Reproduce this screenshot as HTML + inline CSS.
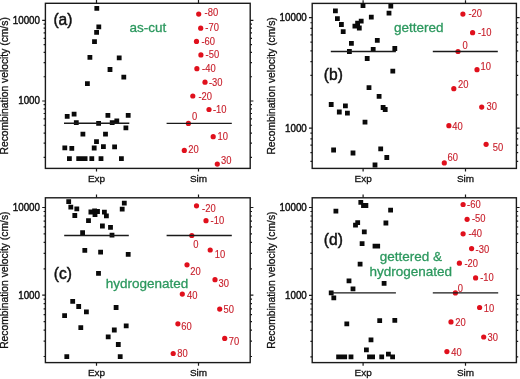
<!DOCTYPE html>
<html><head><meta charset="utf-8"><title>Recombination velocity</title>
<style>html,body{margin:0;padding:0;background:#fff;}svg{display:block;}</style></head>
<body><svg width="520" height="379" viewBox="0 0 520 379" font-family='"Liberation Sans", Arial, sans-serif' fill="#111"><style>text{fill:#111;stroke:#111;stroke-width:0.3px} text.r{fill:#c8202c;stroke:#c8202c;stroke-width:0.12px} text.g{fill:#2c985e;stroke:#2c985e} text.t{stroke-width:0.4px} text.L{stroke-width:0.45px}</style>
<rect width="520" height="379" fill="#fff"/>
<g><rect x="45.4" y="3.3" width="204.8" height="165.1" fill="none" stroke="#1a1a1a" stroke-width="1.4"/><path d="M43.6 157.34H45.4M250.2 157.34H252M43.6 143.14H45.4M250.2 143.14H252M43.6 133.07H45.4M250.2 133.07H252M43.6 125.26H45.4M250.2 125.26H252M43.6 118.88H45.4M250.2 118.88H252M43.6 113.49H45.4M250.2 113.49H252M43.6 108.81H45.4M250.2 108.81H252M43.6 104.69H45.4M250.2 104.69H252M42.2 101H45.4M250.2 101H253.4M43.6 76.74H45.4M250.2 76.74H252M43.6 62.54H45.4M250.2 62.54H252M43.6 52.47H45.4M250.2 52.47H252M43.6 44.66H45.4M250.2 44.66H252M43.6 38.28H45.4M250.2 38.28H252M43.6 32.89H45.4M250.2 32.89H252M43.6 28.21H45.4M250.2 28.21H252M43.6 24.09H45.4M250.2 24.09H252M42.2 20.4H45.4M250.2 20.4H253.4M96.5 168.4V171.6M96.5 3.3V0.1M198.5 168.4V171.6M198.5 3.3V0.1" stroke="#1a1a1a" stroke-width="1.2" fill="none"/><text transform="translate(40 23.8) scale(1 1.1)" text-anchor="end" font-size="9.8" class="t">10000</text><text transform="translate(40 104.4) scale(1 1.1)" text-anchor="end" font-size="9.8" class="t">1000</text><text transform="translate(96.5 181.9) scale(1 0.93)" text-anchor="middle" font-size="10">Exp</text><text transform="translate(198.5 181.9) scale(1 0.93)" text-anchor="middle" font-size="10">Sim</text><text transform="translate(8.3 85.85) rotate(-90)" text-anchor="middle" font-size="10.3">Recombination velocity (cm/s)</text><path d="M94.4 6h4.8v4.8h-4.8zM96.4 24.5h4.8v4.8h-4.8zM94.2 29.9h4.8v4.8h-4.8zM92.1 39.2h4.8v4.8h-4.8zM87.5 55h4.8v4.8h-4.8zM116.8 55.4h4.8v4.8h-4.8zM107.6 67.1h4.8v4.8h-4.8zM121.4 74.8h4.8v4.8h-4.8zM85 81.2h4.8v4.8h-4.8zM64.8 114h4.8v4.8h-4.8zM71.7 111.8h4.8v4.8h-4.8zM105.5 113h4.8v4.8h-4.8zM125.8 113h4.8v4.8h-4.8zM73.9 120.2h4.8v4.8h-4.8zM96.2 120.9h4.8v4.8h-4.8zM109.8 120.2h4.8v4.8h-4.8zM114.4 118.4h4.8v4.8h-4.8zM123.5 125.4h4.8v4.8h-4.8zM80.5 131.7h4.8v4.8h-4.8zM103.1 131.7h4.8v4.8h-4.8zM94.1 139.2h4.8v4.8h-4.8zM62.4 145.5h4.8v4.8h-4.8zM69.4 145.9h4.8v4.8h-4.8zM91.8 145.6h4.8v4.8h-4.8zM101 144.2h4.8v4.8h-4.8zM112.2 144.5h4.8v4.8h-4.8zM67 156.3h4.8v4.8h-4.8zM76.3 156.3h4.8v4.8h-4.8zM79.5 156.3h4.8v4.8h-4.8zM82.7 156.3h4.8v4.8h-4.8zM89.4 156.3h4.8v4.8h-4.8zM98.6 156.3h4.8v4.8h-4.8zM119 156.3h4.8v4.8h-4.8z" fill="#0a0a0a"/><circle cx="198.7" cy="14.1" r="2.6" fill="#e0101c"/><text transform="translate(204.54 16.1) scale(1 1.1)" font-size="9.4" class="r">-80</text><circle cx="200.7" cy="28.2" r="2.6" fill="#e0101c"/><text transform="translate(205.34 31.1) scale(1 1.1)" font-size="9.4" class="r">-70</text><circle cx="196.5" cy="41.4" r="2.6" fill="#e0101c"/><text transform="translate(201.44 44.7) scale(1 1.1)" font-size="9.4" class="r">-60</text><circle cx="200.9" cy="54.9" r="2.6" fill="#e0101c"/><text transform="translate(205.54 58.2) scale(1 1.1)" font-size="9.4" class="r">-50</text><circle cx="196.9" cy="68.7" r="2.6" fill="#e0101c"/><text transform="translate(202.04 72.2) scale(1 1.1)" font-size="9.4" class="r">-40</text><circle cx="205" cy="82.2" r="2.6" fill="#e0101c"/><text transform="translate(208.94 86.3) scale(1 1.1)" font-size="9.4" class="r">-30</text><circle cx="192.8" cy="96" r="2.6" fill="#e0101c"/><text transform="translate(198.44 99.5) scale(1 1.1)" font-size="9.4" class="r">-20</text><circle cx="209" cy="109.5" r="2.6" fill="#e0101c"/><text transform="translate(212.94 112.9) scale(1 1.1)" font-size="9.4" class="r">-10</text><circle cx="188.4" cy="123.4" r="2.6" fill="#e0101c"/><text transform="translate(191.92 120.3) scale(1 1.1)" font-size="9.4" class="r">0</text><circle cx="213.2" cy="136.7" r="2.6" fill="#e0101c"/><text transform="translate(217.51 140) scale(1 1.1)" font-size="9.4" class="r">10</text><circle cx="184.3" cy="150.4" r="2.6" fill="#e0101c"/><text transform="translate(188.34 152.5) scale(1 1.1)" font-size="9.4" class="r">20</text><circle cx="217.3" cy="164.1" r="2.6" fill="#e0101c"/><text transform="translate(221.02 164.2) scale(1 1.1)" font-size="9.4" class="r">30</text><path d="M64 123.3H129.3" stroke="#1a1a1a" stroke-width="1.4"/><path d="M166.6 123.4H231.8" stroke="#1a1a1a" stroke-width="1.4"/></g>
<g><rect x="312.2" y="3.4" width="204.2" height="165" fill="none" stroke="#1a1a1a" stroke-width="1.4"/><path d="M310.4 161.33H312.2M516.4 161.33H518.2M310.4 152.59H312.2M516.4 152.59H518.2M310.4 145.2H312.2M516.4 145.2H518.2M310.4 138.8H312.2M516.4 138.8H518.2M310.4 133.15H312.2M516.4 133.15H518.2M309 128.1H312.2M516.4 128.1H519.6M310.4 94.87H312.2M516.4 94.87H518.2M310.4 75.43H312.2M516.4 75.43H518.2M310.4 61.63H312.2M516.4 61.63H518.2M310.4 50.93H312.2M516.4 50.93H518.2M310.4 42.19H312.2M516.4 42.19H518.2M310.4 34.8H312.2M516.4 34.8H518.2M310.4 28.4H312.2M516.4 28.4H518.2M310.4 22.75H312.2M516.4 22.75H518.2M309 17.7H312.2M516.4 17.7H519.6M363.1 168.4V171.6M363.1 3.4V0.2M465.5 168.4V171.6M465.5 3.4V0.2" stroke="#1a1a1a" stroke-width="1.2" fill="none"/><text transform="translate(306.8 21.1) scale(1 1.1)" text-anchor="end" font-size="9.8" class="t">10000</text><text transform="translate(306.8 131.5) scale(1 1.1)" text-anchor="end" font-size="9.8" class="t">1000</text><text transform="translate(363.1 181.9) scale(1 0.93)" text-anchor="middle" font-size="10">Exp</text><text transform="translate(465.5 181.9) scale(1 0.93)" text-anchor="middle" font-size="10">Sim</text><text transform="translate(275.1 85.9) rotate(-90)" text-anchor="middle" font-size="10.3">Recombination velocity (cm/s)</text><path d="M360.6 3.3h4.8v4.8h-4.8zM388.4 3.7h4.8v4.8h-4.8zM333 8.4h4.8v4.8h-4.8zM386.6 10.8h4.8v4.8h-4.8zM335 16.2h4.8v4.8h-4.8zM368.9 14.8h4.8v4.8h-4.8zM339 22.1h4.8v4.8h-4.8zM340.8 29.2h4.8v4.8h-4.8zM358.8 18.7h4.8v4.8h-4.8zM355.2 20.7h4.8v4.8h-4.8zM352.5 23.8h4.8v4.8h-4.8zM356.9 25.6h4.8v4.8h-4.8zM349 41h4.8v4.8h-4.8zM374.9 38h4.8v4.8h-4.8zM347 49.1h4.8v4.8h-4.8zM370.8 47.1h4.8v4.8h-4.8zM392.4 46.1h4.8v4.8h-4.8zM364.8 56.1h4.8v4.8h-4.8zM390.4 68.8h4.8v4.8h-4.8zM366.6 85.3h4.8v4.8h-4.8zM376.7 94h4.8v4.8h-4.8zM328.8 102.1h4.8v4.8h-4.8zM343 103.5h4.8v4.8h-4.8zM336.9 109.6h4.8v4.8h-4.8zM345 110.8h4.8v4.8h-4.8zM380.7 105.1h4.8v4.8h-4.8zM382.8 107.1h4.8v4.8h-4.8zM362.6 119.8h4.8v4.8h-4.8zM331.2 147.6h4.8v4.8h-4.8zM350.6 150.6h4.8v4.8h-4.8zM378.3 146.4h4.8v4.8h-4.8zM384.4 155.1h4.8v4.8h-4.8zM372.6 162.6h4.8v4.8h-4.8z" fill="#0a0a0a"/><circle cx="462.9" cy="14.1" r="2.6" fill="#e0101c"/><text transform="translate(468.44 17.3) scale(1 1.1)" font-size="9.4" class="r">-20</text><circle cx="472.6" cy="32.7" r="2.6" fill="#e0101c"/><text transform="translate(477.94 36.4) scale(1 1.1)" font-size="9.4" class="r">-10</text><circle cx="458" cy="51.5" r="2.6" fill="#e0101c"/><text transform="translate(462.42 49.2) scale(1 1.1)" font-size="9.4" class="r">0</text><circle cx="477" cy="69.7" r="2.6" fill="#e0101c"/><text transform="translate(480.51 69.7) scale(1 1.1)" font-size="9.4" class="r">10</text><circle cx="453.8" cy="88.7" r="2.6" fill="#e0101c"/><text transform="translate(457.94 88.3) scale(1 1.1)" font-size="9.4" class="r">20</text><circle cx="481.7" cy="107.1" r="2.6" fill="#e0101c"/><text transform="translate(486.62 109.7) scale(1 1.1)" font-size="9.4" class="r">30</text><circle cx="448.9" cy="125.7" r="2.6" fill="#e0101c"/><text transform="translate(452.36 129.7) scale(1 1.1)" font-size="9.4" class="r">40</text><circle cx="486.1" cy="144.3" r="2.6" fill="#e0101c"/><text transform="translate(492.71 150.5) scale(1 1.1)" font-size="9.4" class="r">50</text><circle cx="444.3" cy="162.9" r="2.6" fill="#e0101c"/><text transform="translate(447.62 161.2) scale(1 1.1)" font-size="9.4" class="r">60</text><path d="M330.8 51.5H395.9" stroke="#1a1a1a" stroke-width="1.4"/><path d="M432.8 51.5H497.8" stroke="#1a1a1a" stroke-width="1.4"/></g>
<g><rect x="45.4" y="197.8" width="204.8" height="164.8" fill="none" stroke="#1a1a1a" stroke-width="1.4"/><path d="M43.6 356.5H45.4M250.2 356.5H252M43.6 341.06H45.4M250.2 341.06H252M43.6 330.1H45.4M250.2 330.1H252M43.6 321.6H45.4M250.2 321.6H252M43.6 314.66H45.4M250.2 314.66H252M43.6 308.78H45.4M250.2 308.78H252M43.6 303.7H45.4M250.2 303.7H252M43.6 299.21H45.4M250.2 299.21H252M42.2 295.2H45.4M250.2 295.2H253.4M43.6 268.8H45.4M250.2 268.8H252M43.6 253.36H45.4M250.2 253.36H252M43.6 242.4H45.4M250.2 242.4H252M43.6 233.9H45.4M250.2 233.9H252M43.6 226.96H45.4M250.2 226.96H252M43.6 221.08H45.4M250.2 221.08H252M43.6 216H45.4M250.2 216H252M43.6 211.51H45.4M250.2 211.51H252M42.2 207.5H45.4M250.2 207.5H253.4M96.5 362.6V365.8M96.5 197.8V194.6M198.5 362.6V365.8M198.5 197.8V194.6" stroke="#1a1a1a" stroke-width="1.2" fill="none"/><text transform="translate(40 210.9) scale(1 1.1)" text-anchor="end" font-size="9.8" class="t">10000</text><text transform="translate(40 298.6) scale(1 1.1)" text-anchor="end" font-size="9.8" class="t">1000</text><text transform="translate(96.5 376.1) scale(1 0.93)" text-anchor="middle" font-size="10">Exp</text><text transform="translate(198.5 376.1) scale(1 0.93)" text-anchor="middle" font-size="10">Sim</text><text transform="translate(8.3 280.2) rotate(-90)" text-anchor="middle" font-size="10.3">Recombination velocity (cm/s)</text><path d="M66.3 199.3h4.8v4.8h-4.8zM68.4 204.7h4.8v4.8h-4.8zM74.4 206.5h4.8v4.8h-4.8zM72.4 213.1h4.8v4.8h-4.8zM88.5 209.6h4.8v4.8h-4.8zM92.2 208.6h4.8v4.8h-4.8zM95.1 209.1h4.8v4.8h-4.8zM92.6 212.1h4.8v4.8h-4.8zM102 209.8h4.8v4.8h-4.8zM104 213.5h4.8v4.8h-4.8zM121.9 200.7h4.8v4.8h-4.8zM119.8 206.7h4.8v4.8h-4.8zM86.1 218.2h4.8v4.8h-4.8zM100 223.6h4.8v4.8h-4.8zM108.1 224.9h4.8v4.8h-4.8zM80.2 230.3h4.8v4.8h-4.8zM109.6 232.8h4.8v4.8h-4.8zM82.4 248h4.8v4.8h-4.8zM98.2 249.7h4.8v4.8h-4.8zM125.8 252h4.8v4.8h-4.8zM96.1 270.9h4.8v4.8h-4.8zM70.3 298.9h4.8v4.8h-4.8zM76.3 304.1h4.8v4.8h-4.8zM84 309.4h4.8v4.8h-4.8zM62.2 313.2h4.8v4.8h-4.8zM113.7 305.1h4.8v4.8h-4.8zM78.4 325.3h4.8v4.8h-4.8zM123.8 323.5h4.8v4.8h-4.8zM111.9 327.6h4.8v4.8h-4.8zM105.8 334.4h4.8v4.8h-4.8zM115.9 342.1h4.8v4.8h-4.8zM64.4 354.2h4.8v4.8h-4.8zM117.8 354.2h4.8v4.8h-4.8z" fill="#0a0a0a"/><circle cx="196.5" cy="205.8" r="2.6" fill="#e0101c"/><text transform="translate(202.04 211.5) scale(1 1.1)" font-size="9.4" class="r">-20</text><circle cx="206" cy="220.7" r="2.6" fill="#e0101c"/><text transform="translate(210.54 223.6) scale(1 1.1)" font-size="9.4" class="r">-10</text><circle cx="191.8" cy="235.5" r="2.6" fill="#e0101c"/><text transform="translate(193.32 247.8) scale(1 1.1)" font-size="9.4" class="r">0</text><circle cx="210.2" cy="250" r="2.6" fill="#e0101c"/><text transform="translate(214.81 258) scale(1 1.1)" font-size="9.4" class="r">10</text><circle cx="187" cy="264.8" r="2.6" fill="#e0101c"/><text transform="translate(190.34 274.6) scale(1 1.1)" font-size="9.4" class="r">20</text><circle cx="215" cy="279.7" r="2.6" fill="#e0101c"/><text transform="translate(218.62 287.1) scale(1 1.1)" font-size="9.4" class="r">30</text><circle cx="182.3" cy="294.1" r="2.6" fill="#e0101c"/><text transform="translate(186.96 298.8) scale(1 1.1)" font-size="9.4" class="r">40</text><circle cx="219.7" cy="309.1" r="2.6" fill="#e0101c"/><text transform="translate(223.61 313.3) scale(1 1.1)" font-size="9.4" class="r">50</text><circle cx="177.9" cy="323.8" r="2.6" fill="#e0101c"/><text transform="translate(181.22 329.6) scale(1 1.1)" font-size="9.4" class="r">60</text><circle cx="224.7" cy="338.4" r="2.6" fill="#e0101c"/><text transform="translate(228.71 345.1) scale(1 1.1)" font-size="9.4" class="r">70</text><circle cx="173.2" cy="353.5" r="2.6" fill="#e0101c"/><text transform="translate(177.21 356.6) scale(1 1.1)" font-size="9.4" class="r">80</text><path d="M64.2 235.5H128.8" stroke="#1a1a1a" stroke-width="1.4"/><path d="M166.6 235.5H231.8" stroke="#1a1a1a" stroke-width="1.4"/></g>
<g><rect x="312.2" y="197.8" width="204.2" height="164.8" fill="none" stroke="#1a1a1a" stroke-width="1.4"/><path d="M310.4 356.84H312.2M516.4 356.84H518.2M310.4 341.36H312.2M516.4 341.36H518.2M310.4 330.38H312.2M516.4 330.38H518.2M310.4 321.86H312.2M516.4 321.86H518.2M310.4 314.9H312.2M516.4 314.9H518.2M310.4 309.02H312.2M516.4 309.02H518.2M310.4 303.92H312.2M516.4 303.92H518.2M310.4 299.42H312.2M516.4 299.42H518.2M309 295.4H312.2M516.4 295.4H519.6M310.4 268.94H312.2M516.4 268.94H518.2M310.4 253.46H312.2M516.4 253.46H518.2M310.4 242.48H312.2M516.4 242.48H518.2M310.4 233.96H312.2M516.4 233.96H518.2M310.4 227H312.2M516.4 227H518.2M310.4 221.12H312.2M516.4 221.12H518.2M310.4 216.02H312.2M516.4 216.02H518.2M310.4 211.52H312.2M516.4 211.52H518.2M309 207.5H312.2M516.4 207.5H519.6M363.1 362.6V365.8M363.1 197.8V194.6M465.5 362.6V365.8M465.5 197.8V194.6" stroke="#1a1a1a" stroke-width="1.2" fill="none"/><text transform="translate(306.8 210.9) scale(1 1.1)" text-anchor="end" font-size="9.8" class="t">10000</text><text transform="translate(306.8 298.8) scale(1 1.1)" text-anchor="end" font-size="9.8" class="t">1000</text><text transform="translate(363.1 376.1) scale(1 0.93)" text-anchor="middle" font-size="10">Exp</text><text transform="translate(465.5 376.1) scale(1 0.93)" text-anchor="middle" font-size="10">Sim</text><text transform="translate(275.1 280.2) rotate(-90)" text-anchor="middle" font-size="10.3">Recombination velocity (cm/s)</text><path d="M358.4 200h4.8v4.8h-4.8zM361.1 203.1h4.8v4.8h-4.8zM363.5 203.1h4.8v4.8h-4.8zM388.2 207.7h4.8v4.8h-4.8zM333.5 208.8h4.8v4.8h-4.8zM355.3 220.2h4.8v4.8h-4.8zM353.1 222.7h4.8v4.8h-4.8zM383.5 220.6h4.8v4.8h-4.8zM361.9 229.5h4.8v4.8h-4.8zM359.7 241.2h4.8v4.8h-4.8zM372.6 243.7h4.8v4.8h-4.8zM375.3 243.7h4.8v4.8h-4.8zM357.7 261.8h4.8v4.8h-4.8zM346.6 278.4h4.8v4.8h-4.8zM350.6 286.5h4.8v4.8h-4.8zM381.7 281h4.8v4.8h-4.8zM328.8 290.5h4.8v4.8h-4.8zM331.4 295.4h4.8v4.8h-4.8zM344.4 321.5h4.8v4.8h-4.8zM377.3 318.3h4.8v4.8h-4.8zM392.4 317.9h4.8v4.8h-4.8zM368.6 337.4h4.8v4.8h-4.8zM364 347.4h4.8v4.8h-4.8zM336.2 354.4h4.8v4.8h-4.8zM339.3 354.4h4.8v4.8h-4.8zM342.3 354.4h4.8v4.8h-4.8zM348.6 354.4h4.8v4.8h-4.8zM367.1 354.4h4.8v4.8h-4.8zM370.2 354.4h4.8v4.8h-4.8zM379.3 354.4h4.8v4.8h-4.8zM390.2 354.4h4.8v4.8h-4.8zM386 351.7h4.8v4.8h-4.8z" fill="#0a0a0a"/><circle cx="463.1" cy="204.5" r="2.6" fill="#e0101c"/><text transform="translate(467.04 208.4) scale(1 1.1)" font-size="9.4" class="r">-60</text><circle cx="467.1" cy="219.3" r="2.6" fill="#e0101c"/><text transform="translate(471.94 222) scale(1 1.1)" font-size="9.4" class="r">-50</text><circle cx="463.1" cy="233.8" r="2.6" fill="#e0101c"/><text transform="translate(468.44 236.7) scale(1 1.1)" font-size="9.4" class="r">-40</text><circle cx="471.6" cy="248.6" r="2.6" fill="#e0101c"/><text transform="translate(475.54 252.9) scale(1 1.1)" font-size="9.4" class="r">-30</text><circle cx="459.4" cy="263.2" r="2.6" fill="#e0101c"/><text transform="translate(464.44 266.5) scale(1 1.1)" font-size="9.4" class="r">-20</text><circle cx="475.6" cy="277.9" r="2.6" fill="#e0101c"/><text transform="translate(480.24 281.4) scale(1 1.1)" font-size="9.4" class="r">-10</text><circle cx="455.4" cy="292.9" r="2.6" fill="#e0101c"/><text transform="translate(457.72 291.5) scale(1 1.1)" font-size="9.4" class="r">0</text><circle cx="479.6" cy="307.5" r="2.6" fill="#e0101c"/><text transform="translate(483.81 312.3) scale(1 1.1)" font-size="9.4" class="r">10</text><circle cx="451" cy="321.9" r="2.6" fill="#e0101c"/><text transform="translate(455.34 326.4) scale(1 1.1)" font-size="9.4" class="r">20</text><circle cx="483.7" cy="337" r="2.6" fill="#e0101c"/><text transform="translate(487.62 340.7) scale(1 1.1)" font-size="9.4" class="r">30</text><circle cx="446.9" cy="351.6" r="2.6" fill="#e0101c"/><text transform="translate(451.36 355.7) scale(1 1.1)" font-size="9.4" class="r">40</text><path d="M330.2 292.9H395.9" stroke="#1a1a1a" stroke-width="1.4"/><path d="M432.8 292.9H498.2" stroke="#1a1a1a" stroke-width="1.4"/></g>
<text x="53.4" y="24.6" font-size="15.6" class="L">(a)</text>
<text x="323.8" y="80" font-size="15.6" class="L">(b)</text>
<text x="53.8" y="278.9" font-size="15.6" class="L">(c)</text>
<text x="323.8" y="244.9" font-size="15.6" class="L">(d)</text>
<text x="148.0" y="31.8" text-anchor="middle" font-size="13.5" class="g">as-cut</text>
<text x="418.8" y="32.2" text-anchor="middle" font-size="13.5" class="g">gettered</text>
<text x="147.1" y="287.7" text-anchor="middle" font-size="13.5" class="g">hydrogenated</text>
<text x="410.8" y="260.8" text-anchor="middle" font-size="13.5" class="g">gettered &amp;</text>
<text x="410.8" y="275.8" text-anchor="middle" font-size="13.5" class="g">hydrogenated</text>
</svg></body></html>
